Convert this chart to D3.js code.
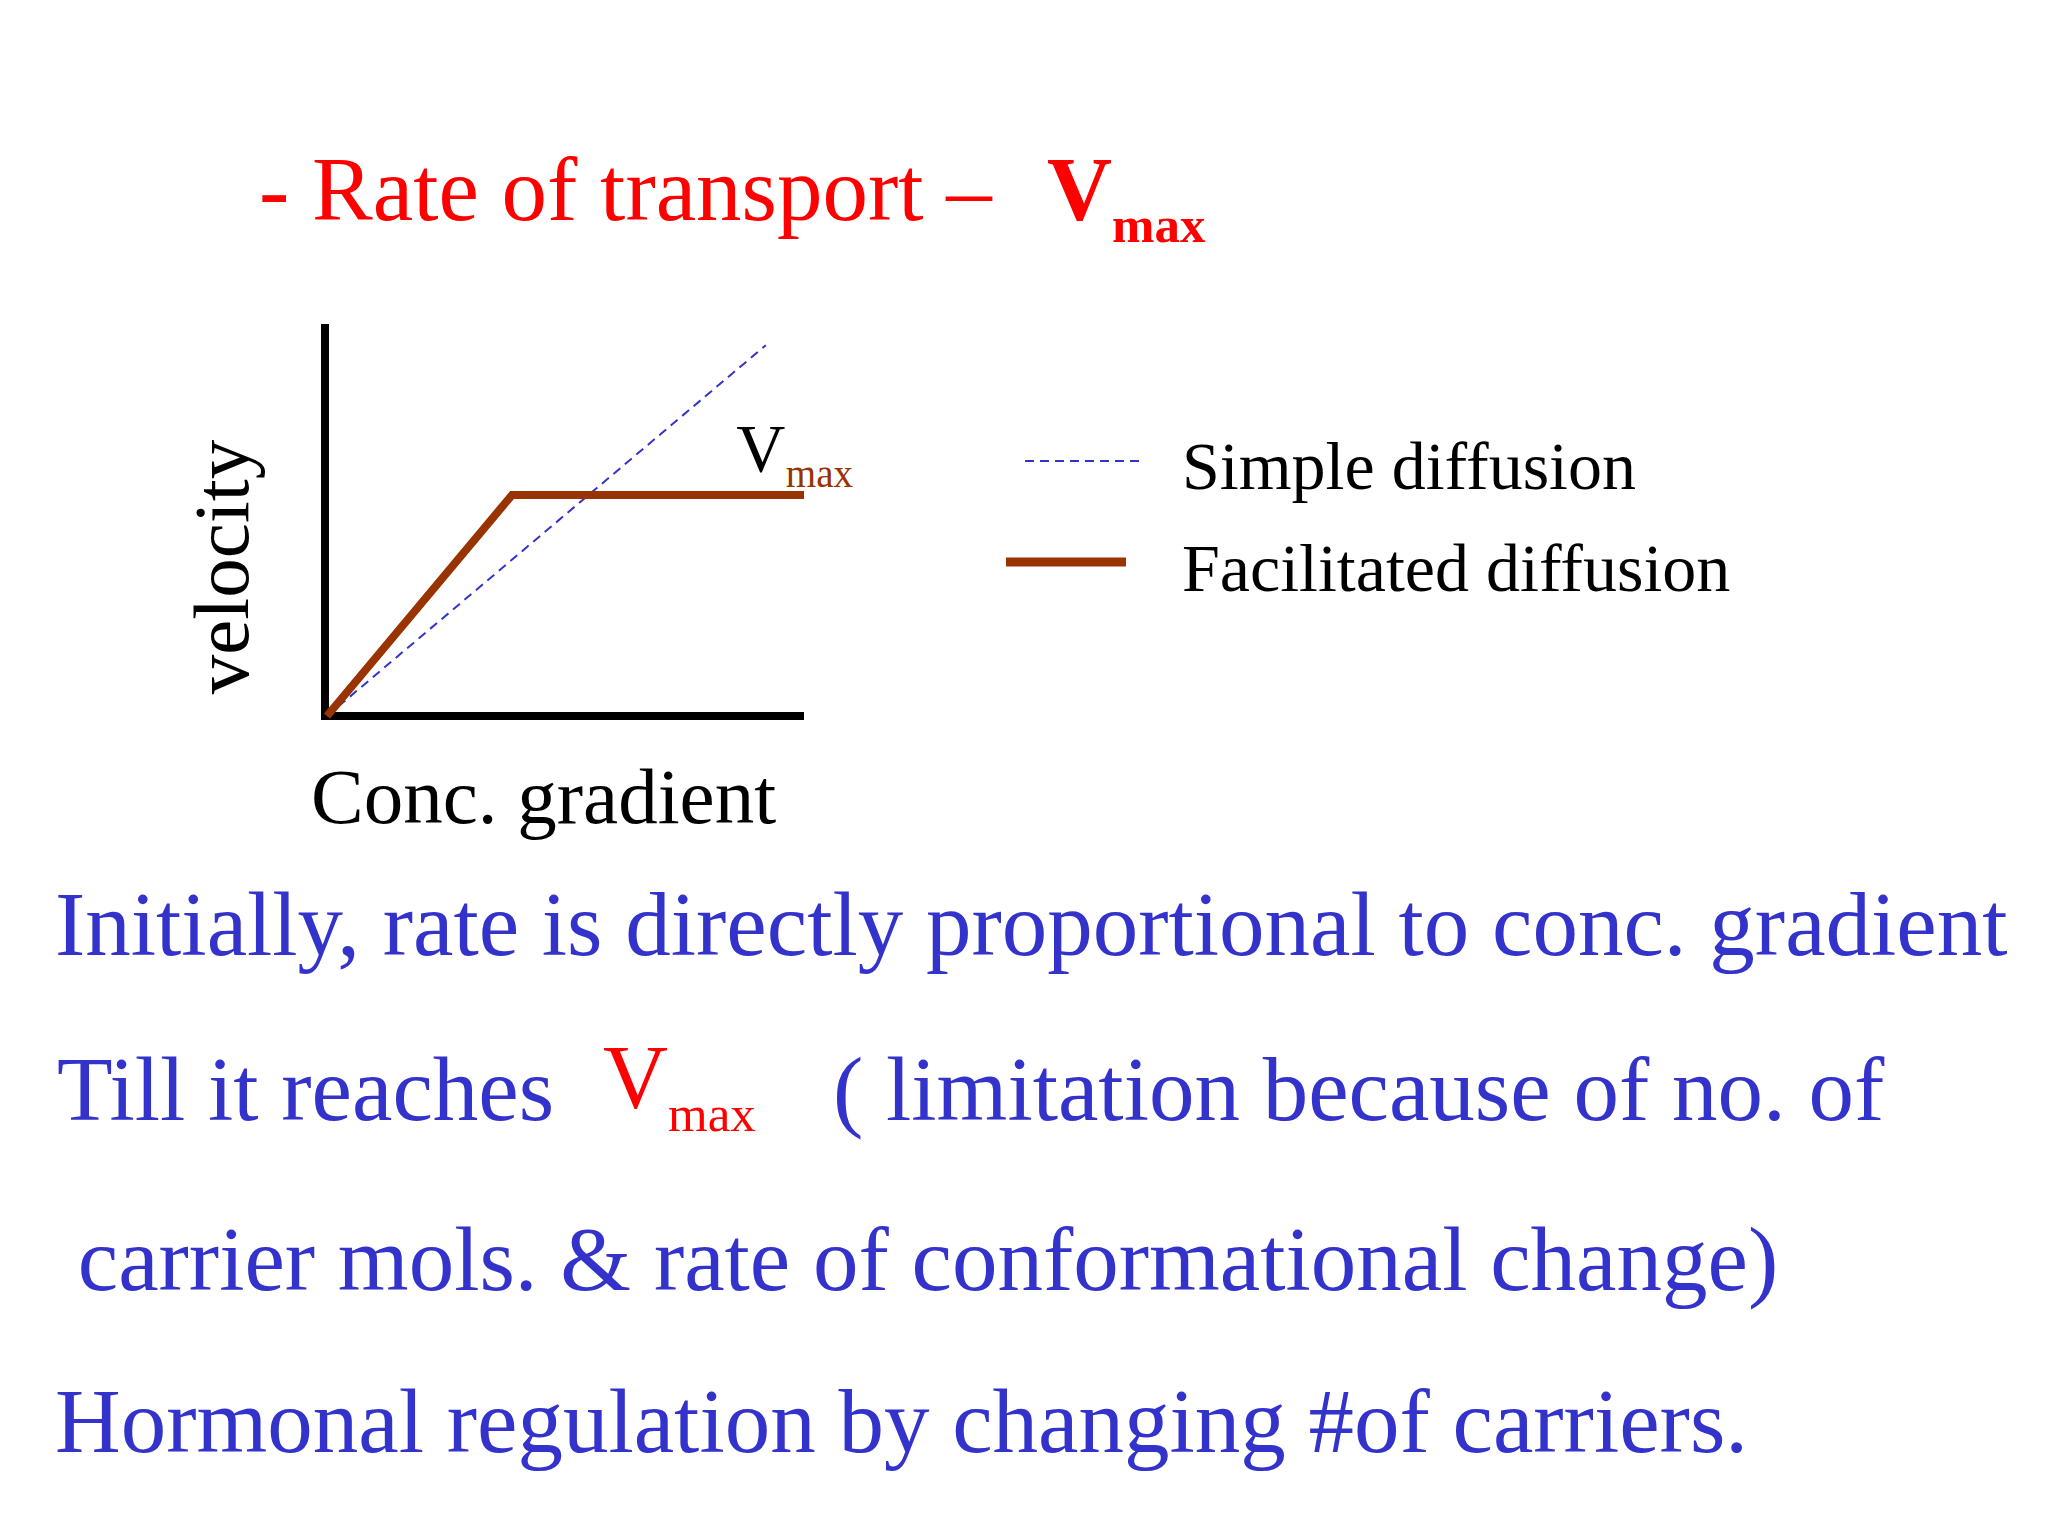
<!DOCTYPE html>
<html>
<head>
<meta charset="utf-8">
<script src="https://cdn.jsdelivr.net/npm/d3@7"></script>
<style>
    html, body { margin: 0; padding: 0; background: #fff; }
    #chart { width: 2048px; height: 1536px; }
</style>
</head>
<body>
<div id="chart"></div>
<script>
// Chart data (arbitrary units)
const seriesNames = ["Simple diffusion", "Facilitated diffusion"];
const simpleX = [0, 9.2];
const simpleY = [0, 9.46];
const facilitatedX = [0, 3.88, 10];
const facilitatedY = [0, 5.64, 5.64];
const xAxisLabel = "Conc. gradient";
const yAxisLabel = "velocity";

// Slide text
const bodyLines = [
    "Initially, rate is directly proportional to conc. gradient",
    "Till it reaches",
    "( limitation because of no. of",
    " carrier mols. & rate of conformational change)",
    "Hormonal regulation by changing #of carriers."
];

const serif = "'Liberation Serif', 'Times New Roman', serif";
const red = "#ff0000";
const blue = "#3333cc";
const brown = "#993300";

const width = 2048, height = 1536;

const svg = d3.select("#chart")
    .append("svg")
    .attr("width", width)
    .attr("height", height);

// Small helper for placing text
function label(x, y, str, size, color, opts = {}) {
    const t = svg.append("text")
        .attr("x", x)
        .attr("y", y)
        .text(str)
        .style("font-family", serif)
        .style("font-size", size + "px")
        .style("fill", color)
        .style("white-space", "pre");
    if (opts.bold) t.style("font-weight", "bold");
    if (opts.anchor) t.attr("text-anchor", opts.anchor);
    return t;
}

// Title
label(259, 220, "- Rate of transport \u2013", 91, red);
label(1047, 220, "V", 90, red, {bold: true});
label(1112, 242, "max", 51, red, {bold: true});

// Scales for the little plot
const x = d3.scaleLinear().domain([0, 10]).range([327, 804]);
const y = d3.scaleLinear().domain([0, 10]).range([716, 324]);

const plot = svg.append("g");

// Axes: bare black lines, no ticks
plot.append("g")
    .attr("transform", `translate(0, ${y(0)})`)
    .call(d3.axisBottom(x).tickValues([]).tickSizeOuter(0))
    .call(g => g.select(".domain")
        .attr("d", `M${x(0) - 6},0H${x(10)}`)
        .style("stroke", "#000")
        .style("stroke-width", 8));

plot.append("g")
    .attr("transform", `translate(${x(0) - 2}, 0)`)
    .call(d3.axisLeft(y).tickValues([]).tickSizeOuter(0))
    .call(g => g.select(".domain")
        .attr("d", `M0,${y(10)}V${y(0) + 4}`)
        .style("stroke", "#000")
        .style("stroke-width", 8));

const line = d3.line()
    .x(d => x(d[0]))
    .y(d => y(d[1]));

// Simple diffusion (dashed)
plot.append("path")
    .datum(d3.zip(simpleX, simpleY))
    .attr("d", line)
    .style("fill", "none")
    .style("stroke", blue)
    .style("stroke-width", 2)
    .style("stroke-dasharray", "9,6");

// Facilitated diffusion
plot.append("path")
    .datum(d3.zip(facilitatedX, facilitatedY))
    .attr("d", line)
    .style("fill", "none")
    .style("stroke", brown)
    .style("stroke-width", 8)
    .style("stroke-linejoin", "miter");

// Vmax label on the plateau
label(x(8.58), y(6.25), "V", 68, "#000");
label(x(9.62), y(5.85), "max", 39, brown);

// Axis labels
label(311, 823, xAxisLabel, 79, "#000");
svg.append("text")
    .attr("transform", "translate(248, 567) rotate(-90)")
    .attr("text-anchor", "middle")
    .text(yAxisLabel)
    .style("font-family", serif)
    .style("font-size", "79px")
    .style("fill", "#000");

// Legend
const legend = svg.append("g");
legend.append("line")
    .attr("x1", 1025).attr("x2", 1143)
    .attr("y1", 461).attr("y2", 461)
    .style("stroke", blue)
    .style("stroke-width", 2)
    .style("stroke-dasharray", "9,6");
legend.append("line")
    .attr("x1", 1006).attr("x2", 1126)
    .attr("y1", 562).attr("y2", 562)
    .style("stroke", brown)
    .style("stroke-width", 9);
label(1182, 489, seriesNames[0], 68, "#000");
label(1182, 591, seriesNames[1], 68, "#000");

// Body text
label(55, 955, bodyLines[0], 91, blue);
label(57, 1120, bodyLines[1], 91, blue);
label(603, 1108, "V", 90, red);
label(668, 1131, "max", 51, red);
label(833, 1120, bodyLines[2], 91, blue);
label(55, 1290, bodyLines[3], 91, blue);
label(55, 1452, bodyLines[4], 91, blue);
</script>
</body>
</html>
